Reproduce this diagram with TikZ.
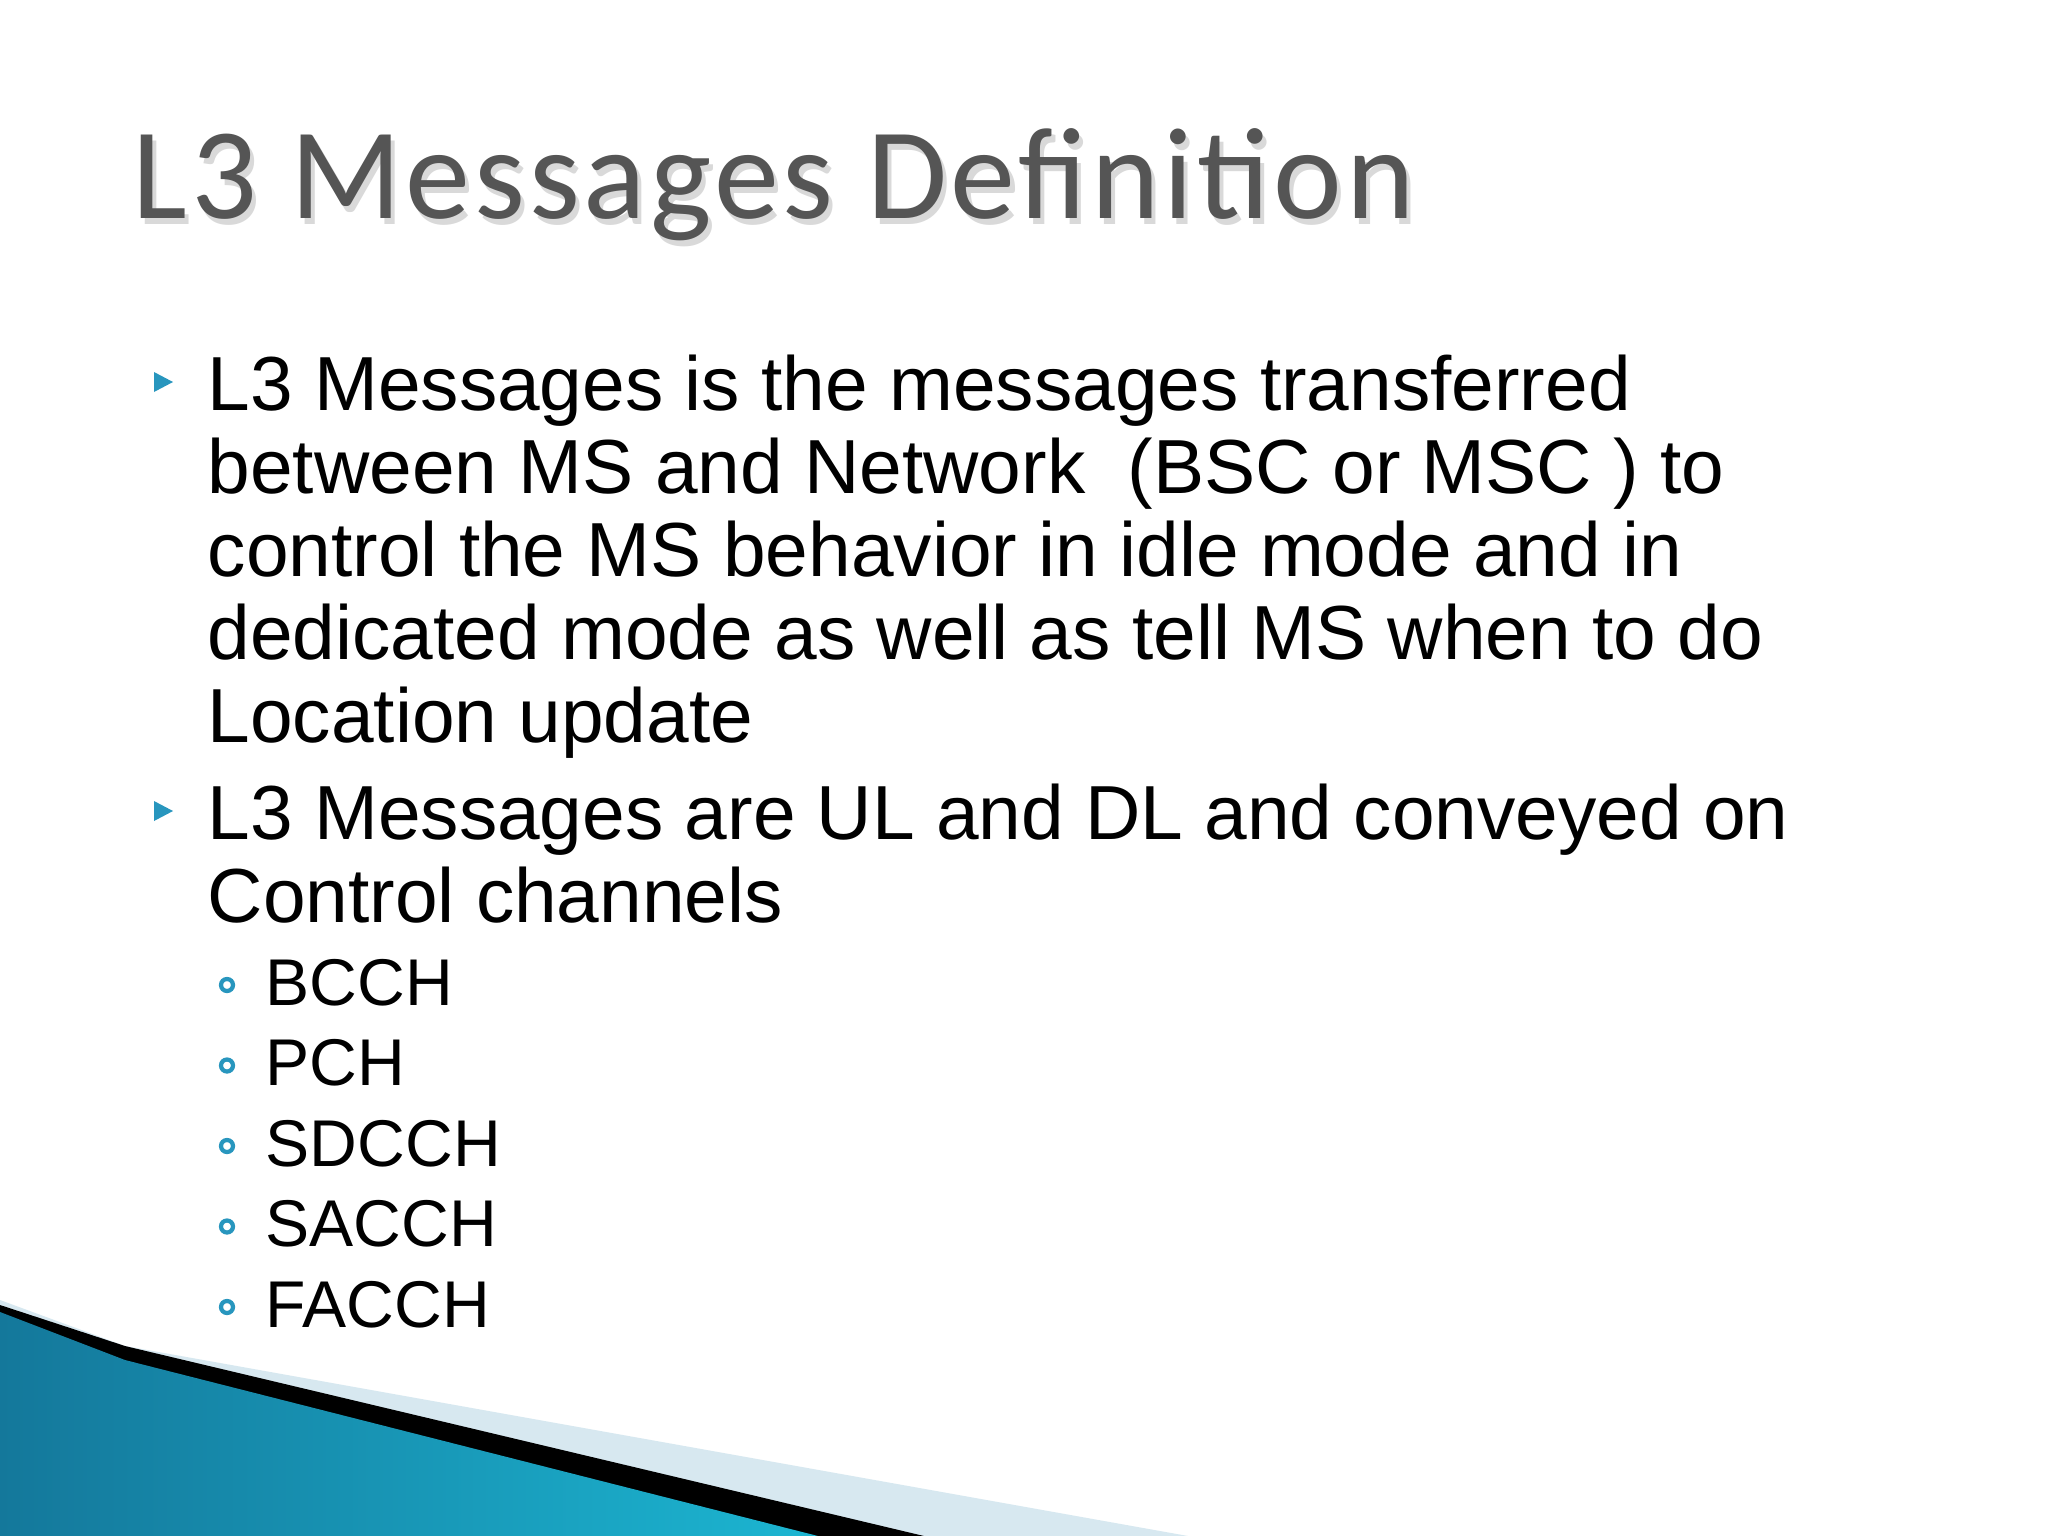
\documentclass[tikz,border=0pt]{standalone}
\usepackage{fontspec}
\setmainfont{Liberation Sans}
\newfontfamily\titlefont[LetterSpace=3]{Carlito}
\usetikzlibrary{positioning}
\definecolor{teal1}{RGB}{40,150,190}
\definecolor{deepblue}{RGB}{20,120,155}
\definecolor{paleblue}{RGB}{215,232,240}
\definecolor{titlegray}{RGB}{85,85,85}

\begin{document}
\begin{tikzpicture}[
    x=0.01cm, y=-0.01cm,
    line/.style={anchor=base west, inner sep=0pt, font=\fontsize{21.8}{24}\selectfont},
    subline/.style={anchor=base west, inner sep=0pt, font=\fontsize{18.8}{20}\selectfont},
    tri/.style={fill=teal1, draw=none},
    ring/.style={draw=teal1, line width=1.2pt},
    heading/.style={anchor=base west, inner sep=0pt, font=\titlefont\fontsize{37}{40}\selectfont}
]
    \useasboundingbox (0,0) rectangle (2048,1536);
    \fill[white] (0,0) rectangle (2048,1536);

    % Corner decoration
    \fill[paleblue] (0,1300) -- (125,1346) -- (1188,1536) -- (0,1536) -- cycle;
    \fill[black] (0,1305) -- (125,1346) -- (924,1536) -- (0,1536) -- cycle;
    \shade[left color=deepblue, right color=teal1!70!cyan] (0,1312) -- (125,1360) -- (818,1536) -- (0,1536) -- cycle;

    % Title
    \node[heading, text=black!15] (shadow) at (136,224) {L3 Messages Definition};
    \node[heading, text=titlegray] (title) at (132,218) {L3 Messages Definition};

    % Bullets
    \fill[tri] (154,372) -- (173,382) -- (154,392) -- cycle;
    \fill[tri] (154,801) -- (173,811) -- (154,821) -- cycle;

    % First point
    \foreach \txt [count=\i] in {L3 Messages is the messages transferred,
        {between MS and Network~~(BSC or MSC~) to},
        control the MS behavior in idle mode and in,
        dedicated mode as well as tell MS when to do,
        Location update}
        \node[line] (pa\i) at (207,{410+83*(\i-1)}) {\txt};

    % Second point
    \node[line] (pb1) at (207,839) {L3 Messages are UL and DL and conveyed on};
    \node[line] (pb2) at (207,922) {Control channels};

    % Channels
    \foreach \ch [count=\i] in {BCCH,PCH,SDCCH,SACCH,FACCH}{
        \draw[ring] (227,{985+80.5*(\i-1)}) circle (6);
        \node[subline] (ch\i) at (265,{1005+80.5*(\i-1)}) {\ch};
    }
\end{tikzpicture}
\end{document}
